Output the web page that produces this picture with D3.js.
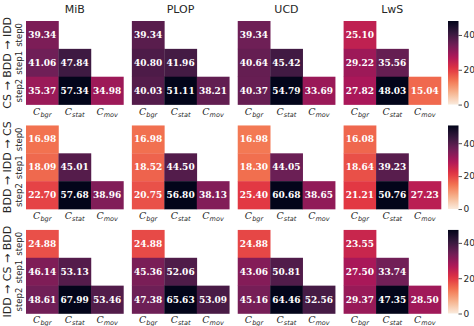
<!DOCTYPE html>
<html>
<head>
<meta charset="utf-8">
<script src="https://cdn.jsdelivr.net/npm/d3@7"></script>
<style>
  html, body { margin: 0; padding: 0; background: #fff; }
  text { fill: #262626; }
</style>
</head>
<body>
<div id="chart"></div>
<script>
// Methods (columns), orders (rows), steps and classes
const methods = ['MiB', 'PLOP', 'UCD', 'LwS'];
const orders = ['CS → BDD → IDD', 'BDD → IDD → CS', 'IDD → CS → BDD'];
const steps = ['step0', 'step1', 'step2'];
const classes = ['bgr', 'stat', 'mov'];
const cbarTicks = [0, 20, 40];

// lower triangular values, one list per method: [step0], [step1], [step2]
const csBddIdd = [
  [[39.34], [41.06, 47.84], [35.37, 57.34, 34.98]],
  [[39.34], [40.80, 41.96], [40.03, 51.11, 38.21]],
  [[39.34], [40.64, 45.42], [40.37, 54.79, 33.69]],
  [[25.10], [29.22, 35.56], [27.82, 48.03, 15.04]]
];
const bddIddCs = [
  [[16.98], [18.09, 45.01], [22.70, 57.68, 38.96]],
  [[16.98], [18.52, 44.50], [20.75, 56.80, 38.13]],
  [[16.98], [18.30, 44.05], [25.40, 60.68, 38.65]],
  [[16.08], [18.64, 39.23], [21.21, 50.76, 27.23]]
];
const iddCsBdd = [
  [[24.88], [46.14, 53.13], [48.61, 67.99, 53.46]],
  [[24.88], [45.36, 52.06], [47.38, 65.63, 53.09]],
  [[24.88], [43.06, 50.81], [45.16, 64.46, 52.56]],
  [[23.55], [27.50, 33.74], [29.37, 47.35, 28.50]]
];
const allRows = [csBddIdd, bddIddCs, iddCsBdd];

// seaborn "rocket" approximation
const rocketStops = ['#03051a', '#35193e', '#701f57', '#ad1759', '#e13342', '#f37651', '#f6b48f', '#faebdd'];
const rocket = d3.scaleLinear()
  .domain(d3.range(rocketStops.length).map(i => i / (rocketStops.length - 1)))
  .range(rocketStops)
  .interpolate(d3.interpolateRgb);
const rocketR = t => rocket(1 - Math.max(0, Math.min(1, t)));

const W = 474, H = 326;
const svg = d3.select('#chart').append('svg')
  .attr('width', W).attr('height', H)
  .style('font-family', '"DejaVu Sans", sans-serif');

const colScale = d3.scaleBand().domain(methods).range([26, 441]).paddingInner(0.08);
const rowScale = d3.scaleBand().domain(orders).range([21, 313.5]).paddingInner(0.2);

const x = d3.scaleBand().domain(classes).range([0, colScale.bandwidth()]);
const y = d3.scaleBand().domain(steps).range([0, rowScale.bandwidth()]);

// gradient for colorbars
const defs = svg.append('defs');
const grad = defs.append('linearGradient').attr('id', 'cbar')
  .attr('x1', 0).attr('y1', 1).attr('x2', 0).attr('y2', 0);
d3.range(0, 1.0001, 0.05).forEach(t => {
  grad.append('stop').attr('offset', t).attr('stop-color', rocketR(t));
});

// column titles
svg.selectAll('.title')
  .data(methods)
  .enter().append('text')
  .attr('class', 'title')
  .attr('x', d => colScale(d) + colScale.bandwidth() / 2)
  .attr('y', 13)
  .attr('text-anchor', 'middle')
  .style('font-size', '11px')
  .text(d => d);

orders.forEach((order, r) => {
  const top = rowScale(order);
  const rowVals = allRows[r];

  // row label
  svg.append('text')
    .attr('transform', `translate(10.5,${top + rowScale.bandwidth() / 2}) rotate(-90)`)
    .attr('text-anchor', 'middle')
    .style('font-size', '11px')
    .text(order);

  // step labels
  steps.forEach(s => {
    svg.append('text')
      .attr('transform', `translate(21.5,${top + y(s) + y.bandwidth() / 2}) rotate(-90)`)
      .attr('text-anchor', 'middle')
      .style('font-size', '8.5px')
      .text(s);
  });

  methods.forEach((m, c) => {
    const vals = rowVals[c];
    const vmax = d3.max(vals.flat());
    const cells = [];
    vals.forEach((row, i) => row.forEach((v, j) => cells.push({ step: steps[i], cls: classes[j], v })));

    const g = svg.append('g')
      .attr('transform', `translate(${colScale(m)},${top})`);

    g.selectAll('rect')
      .data(cells)
      .enter().append('rect')
      .attr('x', d => x(d.cls))
      .attr('y', d => y(d.step))
      .attr('width', x.bandwidth() + 0.3)
      .attr('height', y.bandwidth() + 0.3)
      .attr('fill', d => rocketR(d.v / vmax));

    g.selectAll('.annot')
      .data(cells)
      .enter().append('text')
      .attr('class', 'annot')
      .attr('x', d => x(d.cls) + x.bandwidth() / 2)
      .attr('y', d => y(d.step) + y.bandwidth() / 2)
      .attr('text-anchor', 'middle')
      .attr('dominant-baseline', 'central')
      .style('fill', '#fff')
      .style('font-family', '"DejaVu Serif", serif')
      .style('font-weight', 'bold')
      .style('font-size', '9px')
      .text(d => d.v.toFixed(2));

    // x tick labels (C_bgr etc.)
    const xl = g.selectAll('.xl')
      .data(classes)
      .enter().append('text')
      .attr('class', 'xl')
      .attr('x', d => x(d) + x.bandwidth() / 2)
      .attr('y', rowScale.bandwidth() + 10)
      .attr('text-anchor', 'middle')
      .style('font-style', 'italic')
      .style('font-family', '"DejaVu Serif", serif')
      .style('font-size', '9.5px');
    xl.append('tspan').text('C');
    xl.append('tspan')
      .attr('dy', 2)
      .style('font-family', '"DejaVu Sans", sans-serif')
      .style('font-size', '6.5px')
      .text(d => d);

    // colorbar for the last heatmap of each row
    if (c === methods.length - 1) {
      const cx = 448;
      const cw = 10.5;
      const cbarScale = d3.scaleLinear().domain([0, vmax]).range([rowScale.bandwidth(), 0]);
      const cb = svg.append('g').attr('transform', `translate(${cx},${top})`);
      cb.append('rect')
        .attr('width', cw)
        .attr('height', rowScale.bandwidth())
        .attr('fill', 'url(#cbar)');
      const ax = cb.append('g')
        .attr('transform', `translate(${cw},0)`)
        .call(d3.axisRight(cbarScale).tickValues(cbarTicks).tickSize(3.5).tickPadding(1.5));
      ax.select('.domain').remove();
      ax.selectAll('line').attr('stroke', '#262626').attr('stroke-width', 0.8);
      ax.selectAll('text')
        .style('font-size', '9px')
        .style('font-family', '"DejaVu Sans", sans-serif')
        .style('fill', '#262626');
    }
  });
});
</script>
</body>
</html>
